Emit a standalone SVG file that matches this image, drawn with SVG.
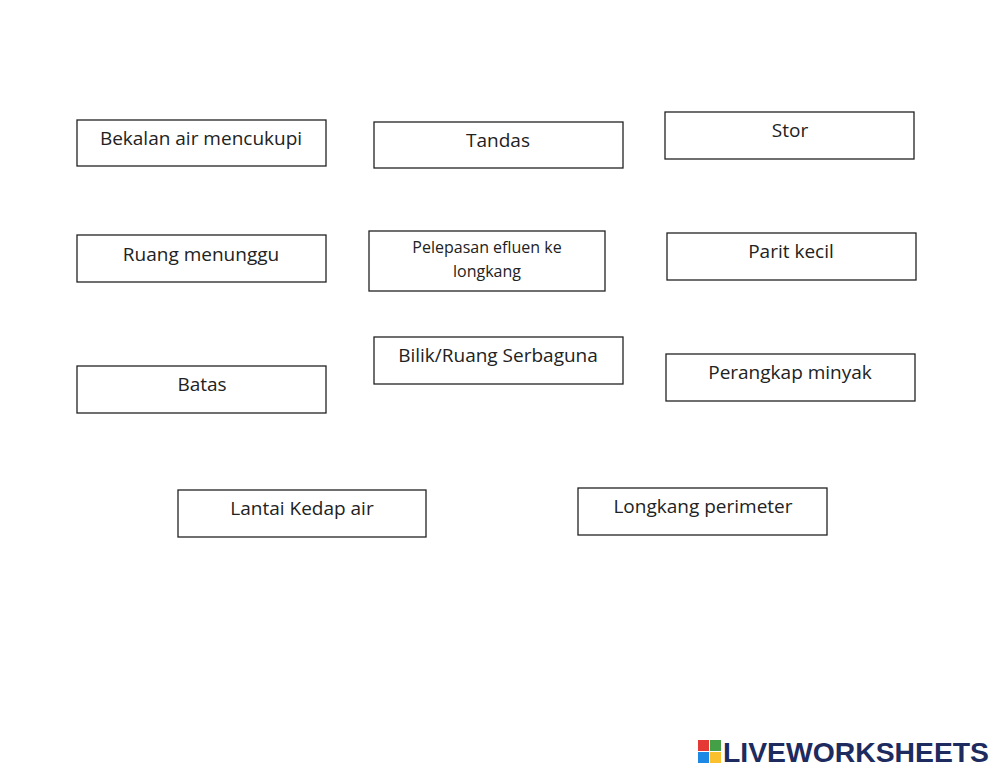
<svg xmlns="http://www.w3.org/2000/svg" width="1000" height="772" viewBox="0 0 1000 772">
<style>
.b{fill:#fff;stroke:#222;stroke-width:1.3}
.t{font-family:"Open Sans","Liberation Sans",sans-serif;font-size:19px;fill:#222;text-anchor:middle}
.s{font-size:16px}
.logo{font-family:"Liberation Sans",Arial,sans-serif;font-weight:bold;font-size:28px;fill:#1d2b5e}
</style>
<rect width="1000" height="772" fill="#fff"/>
<g id="n1"><rect class="b" x="77" y="120" width="249" height="46"/><text class="t" x="201" y="145">Bekalan air mencukupi</text></g>
<g id="n2"><rect class="b" x="374" y="122" width="249" height="46"/><text class="t" x="498" y="147">Tandas</text></g>
<g id="n3"><rect class="b" x="665" y="112" width="249" height="47"/><text class="t" x="790" y="137">Stor</text></g>
<g id="n4"><rect class="b" x="77" y="235" width="249" height="47"/><text class="t" x="201" y="261">Ruang menunggu</text></g>
<g id="n5"><rect class="b" x="369" y="231" width="236" height="60"/><text class="t s" x="487" y="253">Pelepasan efluen ke</text><text class="t s" x="487" y="277">longkang</text></g>
<g id="n6"><rect class="b" x="667" y="233" width="249" height="47"/><text class="t" x="791" y="258">Parit kecil</text></g>
<g id="n7"><rect class="b" x="77" y="366" width="249" height="47"/><text class="t" x="202" y="391">Batas</text></g>
<g id="n8"><rect class="b" x="374" y="337" width="249" height="47"/><text class="t" x="498" y="362">Bilik/Ruang Serbaguna</text></g>
<g id="n9"><rect class="b" x="666" y="354" width="249" height="47"/><text class="t" x="790" y="379">Perangkap minyak</text></g>
<g id="n10"><rect class="b" x="178" y="490" width="248" height="47"/><text class="t" x="302" y="515">Lantai Kedap air</text></g>
<g id="n11"><rect class="b" x="578" y="488" width="249" height="47"/><text class="t" x="703" y="513">Longkang perimeter</text></g>
<g id="connectors"></g>
<g id="logo">
<rect x="698" y="740" width="11" height="11" fill="#e53935"/><rect x="710" y="740" width="11" height="11" fill="#43a047"/>
<rect x="698" y="752" width="11" height="11" fill="#1e88e5"/><rect x="710" y="752" width="11" height="11" fill="#fbc02d"/>
<text class="logo" x="723" y="762" textLength="266" lengthAdjust="spacingAndGlyphs">LIVEWORKSHEETS</text>
</g>
</svg>
